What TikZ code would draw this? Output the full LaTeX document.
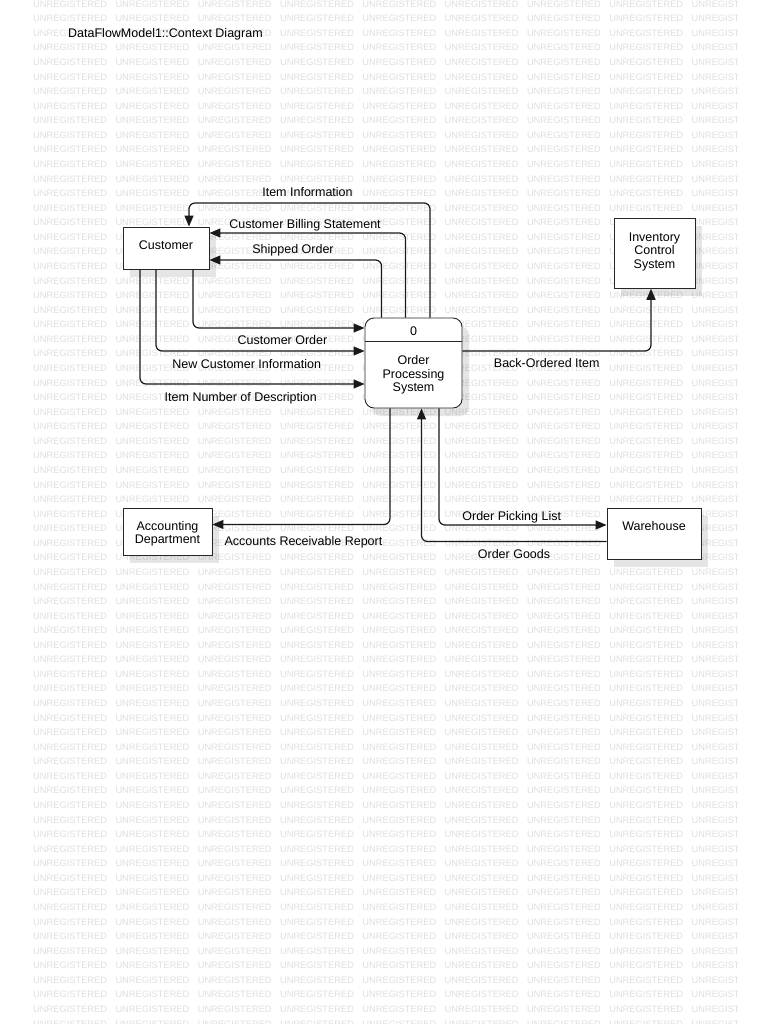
\documentclass[tikz,border=0pt]{standalone}
\usepackage{fontspec}
\setmainfont{Liberation Sans}
\usetikzlibrary{arrows.meta,shadows}

\tikzset{
  every node/.style={font=\fontsize{12.5}{13.5}\selectfont},
  boxshadow/.style={drop shadow={shadow xshift=7pt,shadow yshift=-8pt,fill=black,opacity=0.1}},
  entity/.style={draw=black!85, line width=0.9pt, fill=white, boxshadow, inner sep=0pt},
  process/.style={entity, rounded corners=9pt},
  flow/.style={line width=1.2pt, draw=black!90, rounded corners=6pt,
    -{Triangle[length=11pt,width=9pt]}},
  lbl/.style={inner sep=0pt, text height=9pt, text depth=0pt},
  wmark/.style={anchor=west, inner sep=0pt, text=black!13,
    font=\fontsize{9.3}{10}\selectfont},
}

\begin{document}
\begin{tikzpicture}[x=1pt,y=-1pt]
  \useasboundingbox (0,0) rectangle (768,1024);
  % watermark
  \begin{scope}
    \clip (0,-10) rectangle (737,1030);
    \foreach \r in {0,...,70}
      \foreach \c in {0,...,8}
        \node[wmark] (w\r_\c) at (33+82.3*\c, 4+14.57*\r) {UNREGISTERED};
  \end{scope}

  \node[lbl, anchor=west] (title) at (68,33) {DataFlowModel1::Context Diagram};

  % entities and process
  \node[entity, minimum width=86pt, minimum height=42pt, text depth=6pt] (A0_0) at (166,248) {Customer};
  \node[process, minimum width=97pt, minimum height=90pt, text width=95pt, align=center,
    text height=33pt] (A1_1) at (413.5,363) {Order\\Processing\\System};
  \node[entity, minimum width=81pt, minimum height=70pt, text width=79pt, align=center,
    text depth=32.6pt] (A0_2) at (654.5,253.3) {Inventory\\Control\\System};
  \node[entity, minimum width=89pt, minimum height=47pt, text width=87pt, align=center,
    text height=14pt] (A2_0) at (167.5,531.5) {Accounting\\Department};
  \node[entity, minimum width=94pt, minimum height=51pt, text depth=15pt] (A2_2) at (654,533.5) {Warehouse};

  \draw[line width=0.9pt, draw=black!85] ([yshift=-24pt]A1_1.north west) -- ([yshift=-24pt]A1_1.north east);
  \node[lbl] (A1_1n) at (413.5,330.5) {0};

  % data flows
  \draw[flow] ([xshift=16.5pt]A1_1.north) |- (189,203) -- ([xshift=23pt]A0_0.north);
  \draw[flow] ([xshift=-8pt]A1_1.north) |- ([yshift=15pt]A0_0.east);
  \draw[flow] ([xshift=-32pt]A1_1.north) |- ([yshift=-12pt]A0_0.east);
  \draw[flow] ([xshift=27pt]A0_0.south) |- ([yshift=35pt]A1_1.west);
  \draw[flow] ([xshift=-10pt]A0_0.south) |- ([yshift=12pt]A1_1.west);
  \draw[flow] ([xshift=-26pt]A0_0.south) |- ([yshift=-21pt]A1_1.west);
  \draw[flow] ([yshift=12pt]A1_1.east) -| ([xshift=-3.5pt]A0_2.south);
  \draw[flow] ([xshift=-23.5pt]A1_1.south) |- ([yshift=7pt]A2_0.east);
  \draw[flow] ([xshift=25.5pt]A1_1.south) |- ([yshift=8.5pt]A2_2.west);
  \draw[flow] ([yshift=-8pt]A2_2.west) -| ([xshift=8pt]A1_1.south);

  % flow labels
  \node[lbl] (L_item) at (307.5,192) {Item Information};
  \node[lbl] (L_bill) at (305,224) {Customer Billing Statement};
  \node[lbl] (L_ship) at (293,249) {Shipped Order};
  \node[lbl] (L_order) at (282.5,340) {Customer Order};
  \node[lbl] (L_newcust) at (246.7,364) {New Customer Information};
  \node[lbl] (L_itemno) at (240.8,397) {Item Number of Description};
  \node[lbl] (L_back) at (546.7,362.5) {Back-Ordered Item};
  \node[lbl] (L_ar) at (303.5,541) {Accounts Receivable Report};
  \node[lbl] (L_pick) at (511.7,515.7) {Order Picking List};
  \node[lbl] (L_goods) at (514,554) {Order Goods};
\end{tikzpicture}
\end{document}
